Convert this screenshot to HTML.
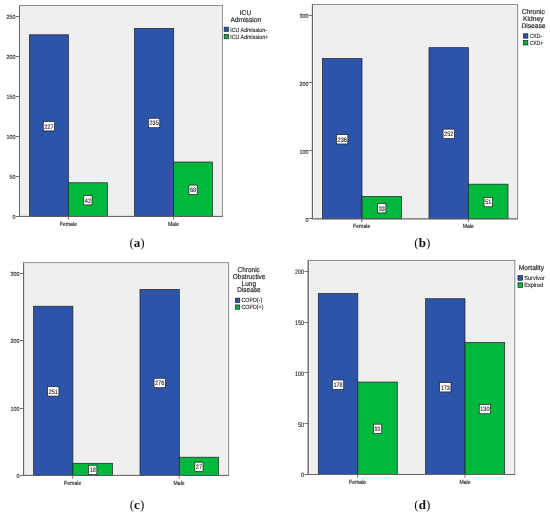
<!DOCTYPE html>
<html><head><meta charset="utf-8"><title>Figure</title>
<style>
html,body{margin:0;padding:0;background:#fff;width:550px;height:516px;overflow:hidden}
svg{display:block;text-rendering:geometricPrecision}
.t{font-family:"Liberation Sans",Arial,sans-serif;fill:#1c1c1c;stroke:#1c1c1c;stroke-width:0.12px}
.lt{font-family:"Liberation Sans",Arial,sans-serif;fill:#2a2a2a;stroke:#2a2a2a;stroke-width:0.2px}
.p{font-family:"Liberation Serif","Times New Roman",serif;font-size:13px;fill:#111}
</style></head>
<body>
<svg width="550" height="516" viewBox="0 0 550 516">
<rect width="550" height="516" fill="#fff"/>
<rect x="19.5" y="5.6" width="202.9" height="210.8" fill="#fdfdfd" stroke="#858585" stroke-width="1"/>
<rect x="20.7" y="6.8" width="200.5" height="209.6" fill="#efefef"/>
<rect x="29.4" y="34.8" width="39" height="181.6" fill="#2c55a9" stroke="#1e1e2a" stroke-width="0.7"/>
<rect x="68.4" y="182.8" width="39" height="33.6" fill="#00b83c" stroke="#1e1e2a" stroke-width="0.7"/>
<rect x="134.5" y="28.4" width="39.2" height="188" fill="#2c55a9" stroke="#1e1e2a" stroke-width="0.7"/>
<rect x="173.7" y="162" width="38.7" height="54.4" fill="#00b83c" stroke="#1e1e2a" stroke-width="0.7"/>
<line x1="19.5" y1="5.6" x2="19.5" y2="216.4" stroke="#626262" stroke-width="1"/>
<line x1="19.5" y1="216.4" x2="222.4" y2="216.4" stroke="#626262" stroke-width="1"/>
<line x1="15.9" y1="216.5" x2="19.5" y2="216.5" stroke="#626262" stroke-width="0.9"/>
<text transform="translate(15.4 219.15) scale(0.89 1)" text-anchor="end" font-size="6.0" class="t">0</text>
<line x1="15.9" y1="176.5" x2="19.5" y2="176.5" stroke="#626262" stroke-width="0.9"/>
<text transform="translate(15.4 179.15) scale(0.89 1)" text-anchor="end" font-size="6.0" class="t">50</text>
<line x1="15.9" y1="136.5" x2="19.5" y2="136.5" stroke="#626262" stroke-width="0.9"/>
<text transform="translate(15.4 139.15) scale(0.89 1)" text-anchor="end" font-size="6.0" class="t">100</text>
<line x1="15.9" y1="96.5" x2="19.5" y2="96.5" stroke="#626262" stroke-width="0.9"/>
<text transform="translate(15.4 99.15) scale(0.89 1)" text-anchor="end" font-size="6.0" class="t">150</text>
<line x1="15.9" y1="56.5" x2="19.5" y2="56.5" stroke="#626262" stroke-width="0.9"/>
<text transform="translate(15.4 59.15) scale(0.89 1)" text-anchor="end" font-size="6.0" class="t">200</text>
<line x1="15.9" y1="16.5" x2="19.5" y2="16.5" stroke="#626262" stroke-width="0.9"/>
<text transform="translate(15.4 19.15) scale(0.89 1)" text-anchor="end" font-size="6.0" class="t">250</text>
<line x1="68.4" y1="216.4" x2="68.4" y2="219.6" stroke="#626262" stroke-width="0.9"/>
<text transform="translate(68.4 225.5) scale(0.86 1)" text-anchor="middle" font-size="6.0" class="t">Female</text>
<line x1="173.6" y1="216.4" x2="173.6" y2="219.6" stroke="#626262" stroke-width="0.9"/>
<text transform="translate(173.6 225.5) scale(0.86 1)" text-anchor="middle" font-size="6.0" class="t">Male</text>
<rect x="43.25" y="121.5" width="11.3" height="9.4" fill="#fff" stroke="#262626" stroke-width="0.75"/>
<text transform="translate(48.9 128.55) scale(0.85 1)" text-anchor="middle" font-size="6.5" class="t">227</text>
<rect x="83.75" y="195.5" width="8.3" height="9.4" fill="#fff" stroke="#262626" stroke-width="0.75"/>
<text transform="translate(87.9 202.55) scale(0.85 1)" text-anchor="middle" font-size="6.5" class="t">42</text>
<rect x="148.45" y="118.3" width="11.3" height="9.4" fill="#fff" stroke="#262626" stroke-width="0.75"/>
<text transform="translate(154.1 125.35) scale(0.85 1)" text-anchor="middle" font-size="6.5" class="t">235</text>
<rect x="188.9" y="185.1" width="8.3" height="9.4" fill="#fff" stroke="#262626" stroke-width="0.75"/>
<text transform="translate(193.05 192.15) scale(0.85 1)" text-anchor="middle" font-size="6.5" class="t">68</text>
<text transform="translate(245.5 14.9) scale(0.97 1)" text-anchor="middle" font-size="6.9" class="lt">ICU</text>
<text transform="translate(245.8 21.7) scale(0.97 1)" text-anchor="middle" font-size="6.9" class="lt">Admission</text>
<rect x="224.15" y="27.15" width="4.3" height="4.3" fill="#2c55a9" stroke="#1e1e2a" stroke-width="0.7"/>
<text transform="translate(230.2 32.1) scale(0.89 1)" font-size="6.0" class="t">ICU Admission-</text>
<rect x="224.15" y="34.45" width="4.3" height="4.3" fill="#00b83c" stroke="#1e1e2a" stroke-width="0.7"/>
<text transform="translate(230.2 39.4) scale(0.89 1)" font-size="6.0" class="t">ICU Admission+</text>
<text x="137" y="247.3" text-anchor="middle" class="p">(<tspan font-weight="bold">a</tspan>)</text>
<rect x="312.4" y="4.6" width="205.2" height="214.2" fill="#fdfdfd" stroke="#858585" stroke-width="1"/>
<rect x="313.6" y="5.8" width="202.8" height="213" fill="#efefef"/>
<rect x="322.4" y="58.56" width="39.6" height="160.24" fill="#2c55a9" stroke="#1e1e2a" stroke-width="0.7"/>
<rect x="362" y="196.39" width="39.5" height="22.41" fill="#00b83c" stroke="#1e1e2a" stroke-width="0.7"/>
<rect x="429" y="47.69" width="39.4" height="171.11" fill="#2c55a9" stroke="#1e1e2a" stroke-width="0.7"/>
<rect x="468.4" y="184.17" width="39.6" height="34.63" fill="#00b83c" stroke="#1e1e2a" stroke-width="0.7"/>
<line x1="312.4" y1="4.6" x2="312.4" y2="218.8" stroke="#626262" stroke-width="1"/>
<line x1="312.4" y1="218.8" x2="517.6" y2="218.8" stroke="#626262" stroke-width="1"/>
<line x1="308.8" y1="218.5" x2="312.4" y2="218.5" stroke="#626262" stroke-width="0.9"/>
<text transform="translate(308.4 221.55) scale(0.89 1)" text-anchor="end" font-size="6.0" class="t">0</text>
<line x1="308.8" y1="150.5" x2="312.4" y2="150.5" stroke="#626262" stroke-width="0.9"/>
<text transform="translate(308.4 153.65) scale(0.89 1)" text-anchor="end" font-size="6.0" class="t">100</text>
<line x1="308.8" y1="82.5" x2="312.4" y2="82.5" stroke="#626262" stroke-width="0.9"/>
<text transform="translate(308.4 85.75) scale(0.89 1)" text-anchor="end" font-size="6.0" class="t">200</text>
<line x1="308.8" y1="15.5" x2="312.4" y2="15.5" stroke="#626262" stroke-width="0.9"/>
<text transform="translate(308.4 17.85) scale(0.89 1)" text-anchor="end" font-size="6.0" class="t">300</text>
<line x1="361.7" y1="218.8" x2="361.7" y2="222" stroke="#626262" stroke-width="0.9"/>
<text transform="translate(361.7 228.4) scale(0.86 1)" text-anchor="middle" font-size="6.0" class="t">Female</text>
<line x1="468.3" y1="218.8" x2="468.3" y2="222" stroke="#626262" stroke-width="0.9"/>
<text transform="translate(468.3 228.4) scale(0.86 1)" text-anchor="middle" font-size="6.0" class="t">Male</text>
<rect x="336.55" y="134.58" width="11.3" height="9.4" fill="#fff" stroke="#262626" stroke-width="0.75"/>
<text transform="translate(342.2 141.63) scale(0.85 1)" text-anchor="middle" font-size="6.5" class="t">236</text>
<rect x="377.6" y="203.5" width="8.3" height="9.4" fill="#fff" stroke="#262626" stroke-width="0.75"/>
<text transform="translate(381.75 210.55) scale(0.85 1)" text-anchor="middle" font-size="6.5" class="t">33</text>
<rect x="443.05" y="129.15" width="11.3" height="9.4" fill="#fff" stroke="#262626" stroke-width="0.75"/>
<text transform="translate(448.7 136.2) scale(0.85 1)" text-anchor="middle" font-size="6.5" class="t">252</text>
<rect x="484.05" y="197.39" width="8.3" height="9.4" fill="#fff" stroke="#262626" stroke-width="0.75"/>
<text transform="translate(488.2 204.44) scale(0.85 1)" text-anchor="middle" font-size="6.5" class="t">51</text>
<text transform="translate(533.3 14.1) scale(0.97 1)" text-anchor="middle" font-size="6.9" class="lt">Chronic</text>
<text transform="translate(533.3 20.9) scale(0.97 1)" text-anchor="middle" font-size="6.9" class="lt">Kidney</text>
<text transform="translate(533.5 27.5) scale(0.97 1)" text-anchor="middle" font-size="6.9" class="lt">Disease</text>
<rect x="523.45" y="33.75" width="4.4" height="4.4" fill="#2c55a9" stroke="#1e1e2a" stroke-width="0.7"/>
<text transform="translate(529.9 37.85) scale(0.82 1)" font-size="6.0" class="t">CKD-</text>
<rect x="523.45" y="40.55" width="4.4" height="4.4" fill="#00b83c" stroke="#1e1e2a" stroke-width="0.7"/>
<text transform="translate(529.9 44.65) scale(0.82 1)" font-size="6.0" class="t">CKD+</text>
<text x="422.3" y="247.4" text-anchor="middle" class="p">(<tspan font-weight="bold">b</tspan>)</text>
<rect x="23.6" y="262.7" width="205" height="212.7" fill="#fdfdfd" stroke="#858585" stroke-width="1"/>
<rect x="24.8" y="263.9" width="202.6" height="211.5" fill="#efefef"/>
<rect x="33.6" y="306.23" width="39.3" height="169.17" fill="#2c55a9" stroke="#1e1e2a" stroke-width="0.7"/>
<rect x="72.9" y="463.27" width="39.6" height="12.13" fill="#00b83c" stroke="#1e1e2a" stroke-width="0.7"/>
<rect x="140" y="289.38" width="39.3" height="186.02" fill="#2c55a9" stroke="#1e1e2a" stroke-width="0.7"/>
<rect x="179.3" y="457.2" width="39.2" height="18.2" fill="#00b83c" stroke="#1e1e2a" stroke-width="0.7"/>
<line x1="23.6" y1="262.7" x2="23.6" y2="475.4" stroke="#626262" stroke-width="1"/>
<line x1="23.6" y1="475.4" x2="228.6" y2="475.4" stroke="#626262" stroke-width="1"/>
<line x1="20" y1="475.5" x2="23.6" y2="475.5" stroke="#626262" stroke-width="0.9"/>
<text transform="translate(19.5 478.15) scale(0.89 1)" text-anchor="end" font-size="6.0" class="t">0</text>
<line x1="20" y1="408.5" x2="23.6" y2="408.5" stroke="#626262" stroke-width="0.9"/>
<text transform="translate(19.5 410.75) scale(0.89 1)" text-anchor="end" font-size="6.0" class="t">100</text>
<line x1="20" y1="340.5" x2="23.6" y2="340.5" stroke="#626262" stroke-width="0.9"/>
<text transform="translate(19.5 343.35) scale(0.89 1)" text-anchor="end" font-size="6.0" class="t">200</text>
<line x1="20" y1="273.5" x2="23.6" y2="273.5" stroke="#626262" stroke-width="0.9"/>
<text transform="translate(19.5 275.95) scale(0.89 1)" text-anchor="end" font-size="6.0" class="t">300</text>
<line x1="72.7" y1="475.4" x2="72.7" y2="478.6" stroke="#626262" stroke-width="0.9"/>
<text transform="translate(72.7 484.6) scale(0.86 1)" text-anchor="middle" font-size="6.0" class="t">Female</text>
<line x1="179.1" y1="475.4" x2="179.1" y2="478.6" stroke="#626262" stroke-width="0.9"/>
<text transform="translate(179.1 484.6) scale(0.86 1)" text-anchor="middle" font-size="6.0" class="t">Male</text>
<rect x="47.6" y="386.71" width="11.3" height="9.4" fill="#fff" stroke="#262626" stroke-width="0.75"/>
<text transform="translate(53.25 393.76) scale(0.85 1)" text-anchor="middle" font-size="6.5" class="t">251</text>
<rect x="88.55" y="465.23" width="8.3" height="9.4" fill="#fff" stroke="#262626" stroke-width="0.75"/>
<text transform="translate(92.7 472.28) scale(0.85 1)" text-anchor="middle" font-size="6.5" class="t">18</text>
<rect x="154" y="378.29" width="11.3" height="9.4" fill="#fff" stroke="#262626" stroke-width="0.75"/>
<text transform="translate(159.65 385.34) scale(0.85 1)" text-anchor="middle" font-size="6.5" class="t">276</text>
<rect x="194.75" y="462.2" width="8.3" height="9.4" fill="#fff" stroke="#262626" stroke-width="0.75"/>
<text transform="translate(198.9 469.25) scale(0.85 1)" text-anchor="middle" font-size="6.5" class="t">27</text>
<text transform="translate(248.7 271.7) scale(0.91 1)" text-anchor="middle" font-size="7.1" class="lt">Chronic</text>
<text transform="translate(249.1 278.6) scale(0.91 1)" text-anchor="middle" font-size="7.1" class="lt">Obstructive</text>
<text transform="translate(248.8 285.5) scale(0.91 1)" text-anchor="middle" font-size="7.1" class="lt">Lung</text>
<text transform="translate(248.9 291.9) scale(0.91 1)" text-anchor="middle" font-size="7.1" class="lt">Disease</text>
<rect x="235.45" y="298.15" width="4.3" height="4.3" fill="#2c55a9" stroke="#1e1e2a" stroke-width="0.7"/>
<text transform="translate(241.4 302.4) scale(0.89 1)" font-size="6.0" class="t">COPD(-)</text>
<rect x="235.45" y="304.95" width="4.3" height="4.3" fill="#00b83c" stroke="#1e1e2a" stroke-width="0.7"/>
<text transform="translate(241.4 309.2) scale(0.89 1)" font-size="6.0" class="t">COPD(+)</text>
<text x="137" y="509.1" text-anchor="middle" class="p">(<tspan font-weight="bold">c</tspan>)</text>
<rect x="308.2" y="260.5" width="206.6" height="214" fill="#fdfdfd" stroke="#858585" stroke-width="1"/>
<rect x="309.4" y="261.7" width="204.2" height="212.8" fill="#efefef"/>
<rect x="318.3" y="293.65" width="39.5" height="180.85" fill="#2c55a9" stroke="#1e1e2a" stroke-width="0.7"/>
<rect x="357.8" y="382.04" width="39.5" height="92.46" fill="#00b83c" stroke="#1e1e2a" stroke-width="0.7"/>
<rect x="425.6" y="298.73" width="39.4" height="175.77" fill="#2c55a9" stroke="#1e1e2a" stroke-width="0.7"/>
<rect x="465" y="342.42" width="39.7" height="132.08" fill="#00b83c" stroke="#1e1e2a" stroke-width="0.7"/>
<line x1="308.2" y1="260.5" x2="308.2" y2="474.5" stroke="#626262" stroke-width="1"/>
<line x1="308.2" y1="474.5" x2="514.8" y2="474.5" stroke="#626262" stroke-width="1"/>
<line x1="304.6" y1="474.5" x2="308.2" y2="474.5" stroke="#626262" stroke-width="0.9"/>
<text transform="translate(304 477.4) scale(0.84 1)" text-anchor="end" font-size="6.4" class="t">0</text>
<line x1="304.6" y1="423.5" x2="308.2" y2="423.5" stroke="#626262" stroke-width="0.9"/>
<text transform="translate(304 426.6) scale(0.84 1)" text-anchor="end" font-size="6.4" class="t">50</text>
<line x1="304.6" y1="372.5" x2="308.2" y2="372.5" stroke="#626262" stroke-width="0.9"/>
<text transform="translate(304 375.8) scale(0.84 1)" text-anchor="end" font-size="6.4" class="t">100</text>
<line x1="304.6" y1="322.5" x2="308.2" y2="322.5" stroke="#626262" stroke-width="0.9"/>
<text transform="translate(304 325) scale(0.84 1)" text-anchor="end" font-size="6.4" class="t">150</text>
<line x1="304.6" y1="271.5" x2="308.2" y2="271.5" stroke="#626262" stroke-width="0.9"/>
<text transform="translate(304 274.2) scale(0.84 1)" text-anchor="end" font-size="6.4" class="t">200</text>
<line x1="357.6" y1="474.5" x2="357.6" y2="477.7" stroke="#626262" stroke-width="0.9"/>
<text transform="translate(357.6 484) scale(0.86 1)" text-anchor="middle" font-size="6.0" class="t">Female</text>
<line x1="465" y1="474.5" x2="465" y2="477.7" stroke="#626262" stroke-width="0.9"/>
<text transform="translate(465 484) scale(0.86 1)" text-anchor="middle" font-size="6.0" class="t">Male</text>
<rect x="332.4" y="379.98" width="11.3" height="9.4" fill="#fff" stroke="#262626" stroke-width="0.75"/>
<text transform="translate(338.05 387.03) scale(0.85 1)" text-anchor="middle" font-size="6.5" class="t">178</text>
<rect x="373.4" y="424.17" width="8.3" height="9.4" fill="#fff" stroke="#262626" stroke-width="0.75"/>
<text transform="translate(377.55 431.22) scale(0.85 1)" text-anchor="middle" font-size="6.5" class="t">91</text>
<rect x="439.65" y="382.52" width="11.3" height="9.4" fill="#fff" stroke="#262626" stroke-width="0.75"/>
<text transform="translate(445.3 389.57) scale(0.85 1)" text-anchor="middle" font-size="6.5" class="t">173</text>
<rect x="479.2" y="404.36" width="11.3" height="9.4" fill="#fff" stroke="#262626" stroke-width="0.75"/>
<text transform="translate(484.85 411.41) scale(0.85 1)" text-anchor="middle" font-size="6.5" class="t">130</text>
<text transform="translate(531.4 269.9) scale(0.97 1)" text-anchor="middle" font-size="6.9" class="lt">Mortality</text>
<rect x="517.95" y="275.65" width="4.6" height="4.6" fill="#2c55a9" stroke="#1e1e2a" stroke-width="0.7"/>
<text transform="translate(524.2 279.85) scale(0.93 1)" font-size="6.0" class="t">Survivor</text>
<rect x="517.95" y="282.75" width="4.6" height="4.6" fill="#00b83c" stroke="#1e1e2a" stroke-width="0.7"/>
<text transform="translate(524.2 286.95) scale(0.93 1)" font-size="6.0" class="t">Expired</text>
<text x="422.3" y="509.1" text-anchor="middle" class="p">(<tspan font-weight="bold">d</tspan>)</text>
</svg>
</body></html>
